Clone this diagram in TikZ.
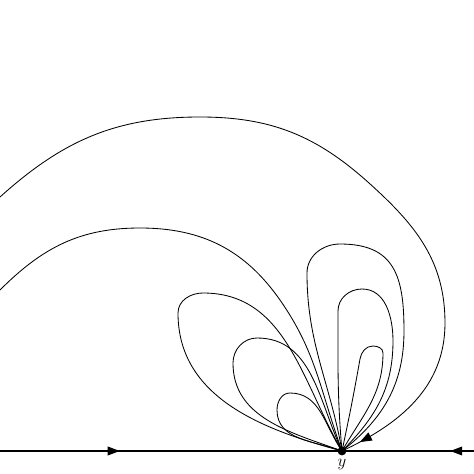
\documentclass[tikz,border=0pt]{standalone}
\usepackage{amsmath, amssymb}
\usetikzlibrary{arrows.meta, decorations.markings}
\tikzset{
  dot/.style={circle, fill, inner sep=0pt, minimum size=2.2mm},
  orbit/.style={line width=0.6pt},
  axis/.style={line width=0.75pt},
  arrowat/.style={postaction={decorate}, decoration={markings,
    mark=at position #1 with {\arrow{Triangle[length=3mm,width=2.2mm]}}}}
}
\begin{document}
\begin{tikzpicture}
\useasboundingbox (-8.55,-0.575) rectangle (3.3,11.275);
\node[dot, label={[font=\large, label distance=-1pt]below:$y$}] (y) at (0,0) {};
\coordinate (left) at (-8.55,0);
\coordinate (right) at (3.3,0);
\draw[axis, arrowat=0.35] (left) -- (y.center);
\draw[axis, arrowat=0.18] (right) -- (y.center);
\draw[orbit, arrowat=-0.5cm] (-8.55,6.35) to[out=42,in=180] (-3.55,8.35)
  to[out=0,in=138] (0.675,6.7) to[out=-42,in=90] (2.575,3.2)
  to[out=-90,in=25] (y.center);
\draw[orbit] (-8.55,4.025) to[out=45,in=180] (-5.05,5.575)
  to[out=0,in=125] (-1.55,3.775) to[out=-55,in=110] (y.center);
\draw[orbit] (y.center) to[out=165,in=-90] (-4.1,3.45) to[out=90,in=180] (-3.475,3.95)
  to[out=0,in=120] (y.center);
\draw[orbit] (y.center) to[out=160,in=-90] (-2.725,2.2) to[out=90,in=180] (-2.125,2.825)
  to[out=0,in=115] (y.center);
\draw[orbit] (y.center) to[out=160,in=-90] (-1.625,1.025) to[out=90,in=180] (-1.3,1.45)
  to[out=0,in=125] (y.center);
\draw[orbit] (y.center) to[out=100,in=-90] (-0.875,4.45) to[out=90,in=180] (-0.05,5.175)
  to[out=0,in=90,looseness=1.3] (1.55,3.0) to[out=-90,in=38] (y.center);
\draw[orbit] (y.center) to[out=95,in=-90] (-0.1,3.5) to[out=90,in=180] (0.5,4.05)
  to[out=0,in=90] (1.275,2.75) to[out=-90,in=45] (y.center);
\draw[orbit] (y.center) to[out=78,in=-100] (0.45,2.3) to[out=80,in=180] (0.775,2.625)
  to[out=0,in=90] (1.025,2.45) to[out=-90,in=60] (y.center);
\end{tikzpicture}
\end{document}
